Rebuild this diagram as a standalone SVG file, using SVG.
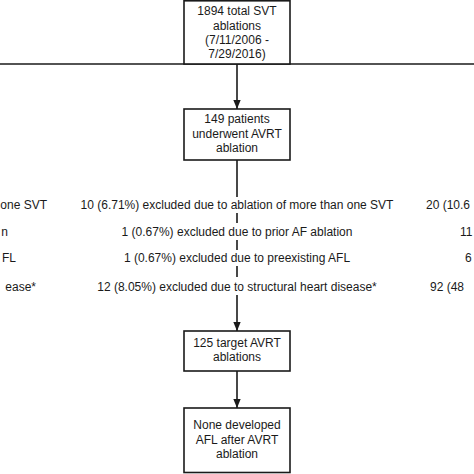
<svg xmlns="http://www.w3.org/2000/svg" width="474" height="474" viewBox="0 0 474 474">
<style>
.box{fill:#fff;stroke:#1a1a1a;stroke-width:1.6}
.ln{stroke:#1a1a1a;stroke-width:1.6;fill:none}
text{font-family:"Liberation Sans",Arial,sans-serif;font-size:12px;fill:#1a1a1a}
.c{text-anchor:middle}
.e{text-anchor:end}
</style>
<defs>
<marker id="arr" markerWidth="9" markerHeight="11" refX="11" refY="4.5" orient="auto" markerUnits="userSpaceOnUse" viewBox="0 0 11 9">
<path d="M0,0 L11,4.5 L0,9 Z" fill="#1a1a1a"/>
</marker>
</defs>
<rect width="474" height="474" fill="#fff"/>
<g id="connectors">
<line class="ln" x1="0" y1="64" x2="474" y2="64"/>
<line class="ln" x1="237" y1="64" x2="237" y2="109" marker-end="url(#arr)"/>
<line class="ln" x1="237" y1="160" x2="237" y2="197"/>
<line class="ln" x1="237" y1="213" x2="237" y2="223"/>
<line class="ln" x1="237" y1="240" x2="237" y2="250"/>
<line class="ln" x1="237" y1="266" x2="237" y2="277"/>
<line class="ln" x1="237" y1="295" x2="237" y2="331" marker-end="url(#arr)"/>
<line class="ln" x1="237" y1="371" x2="237" y2="408" marker-end="url(#arr)"/>
</g>
<g id="n1">
<rect class="box" x="184" y="0.8" width="106" height="63.2"/>
<text class="c" x="237" y="15">1894 total SVT</text>
<text class="c" x="237" y="29.5">ablations</text>
<text class="c" x="237" y="44">(7/11/2006 -</text>
<text class="c" x="237" y="58">7/29/2016)</text>
</g>
<g id="n2">
<rect class="box" x="184" y="109" width="106" height="51"/>
<text class="c" x="237" y="123">149 patients</text>
<text class="c" x="237" y="137.5">underwent AVRT</text>
<text class="c" x="237" y="152">ablation</text>
</g>
<g id="exclusions">
<text class="c" x="237" y="209">10 (6.71%) excluded due to ablation of more than one SVT</text>
<text class="c" x="237" y="236">1 (0.67%) excluded due to prior AF ablation</text>
<text class="c" x="237" y="262">1 (0.67%) excluded due to preexisting AFL</text>
<text class="c" x="237" y="291">12 (8.05%) excluded due to structural heart disease*</text>
</g>
<g id="left-column">
<text class="e" x="47" y="209">one SVT</text>
<text class="e" x="8" y="236">n</text>
<text class="e" x="16" y="262">FL</text>
<text class="e" x="36" y="291">ease*</text>
</g>
<g id="right-column">
<text x="426" y="209">20 (10.6</text>
<text x="460" y="236">11</text>
<text x="465" y="262">6</text>
<text x="430" y="291">92 (48</text>
</g>
<g id="n3">
<rect class="box" x="184" y="331" width="106" height="40"/>
<text class="c" x="237" y="347">125 target AVRT</text>
<text class="c" x="237" y="361">ablations</text>
</g>
<g id="n4">
<rect class="box" x="184" y="408" width="106" height="64.5"/>
<text class="c" x="237" y="429">None developed</text>
<text class="c" x="237" y="443.5">AFL after AVRT</text>
<text class="c" x="237" y="458">ablation</text>
</g>
</svg>
